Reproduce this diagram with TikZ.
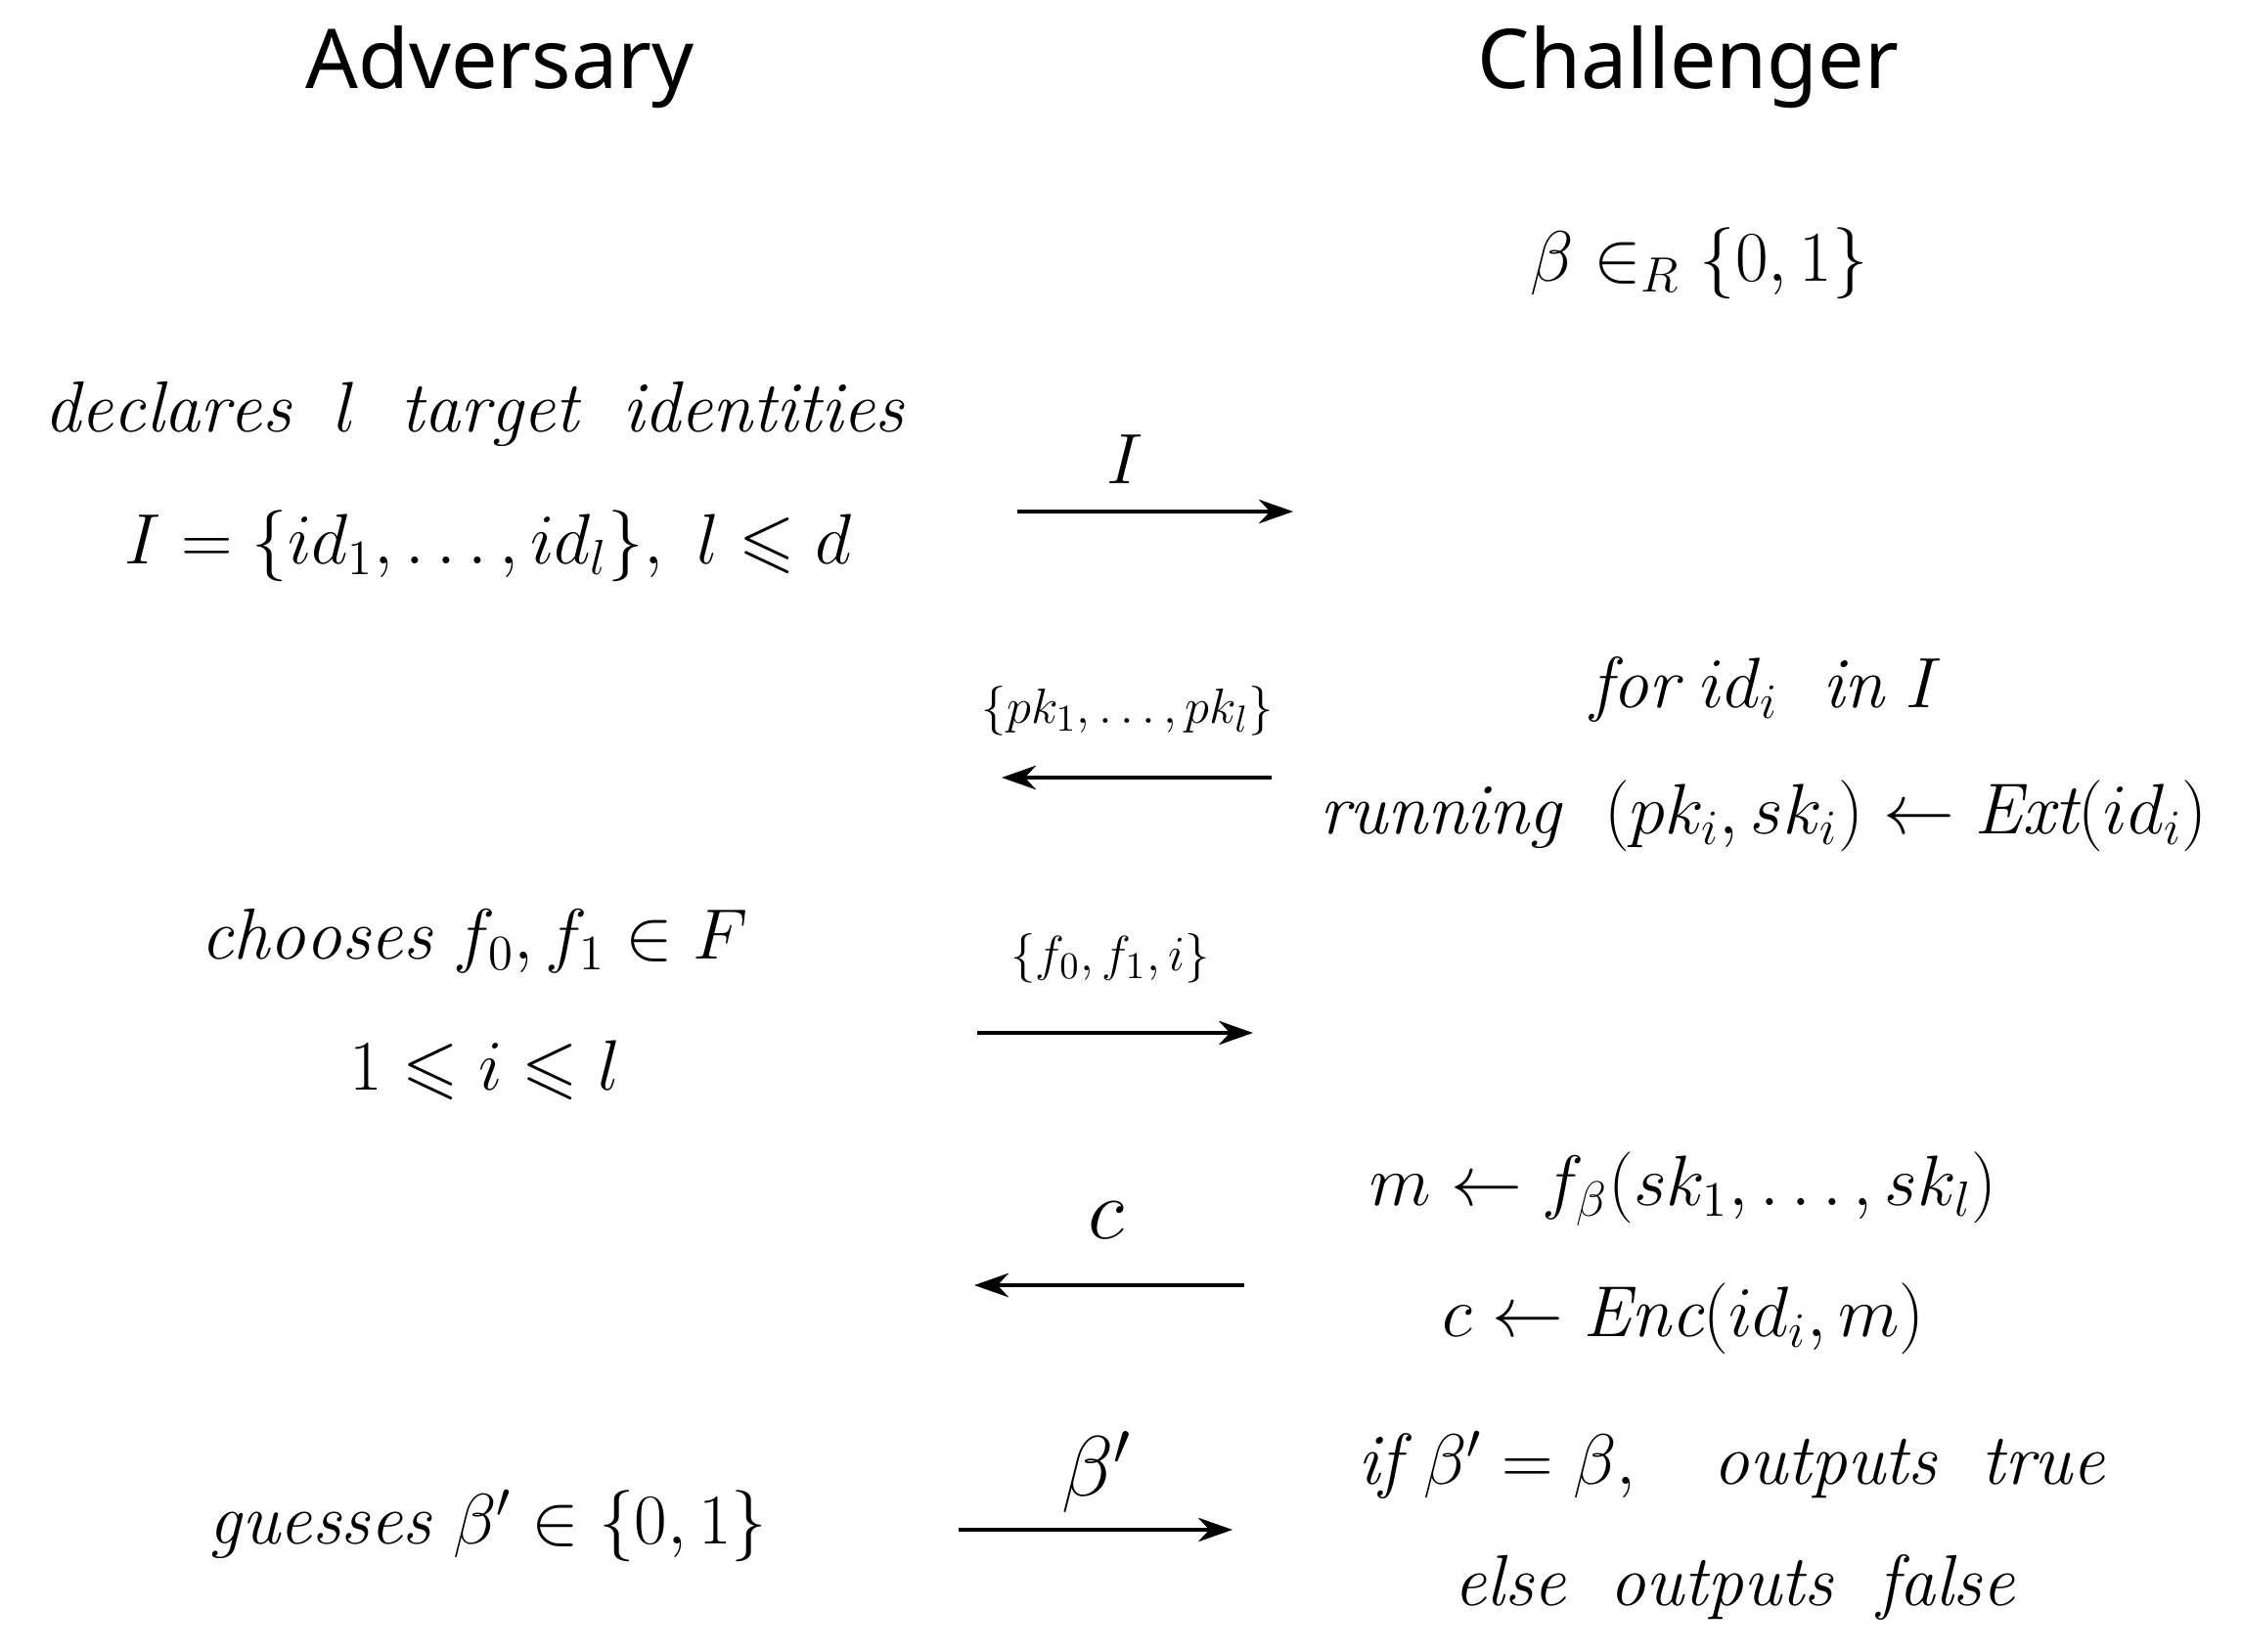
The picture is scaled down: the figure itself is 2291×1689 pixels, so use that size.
\documentclass[tikz,border=0pt]{standalone}
\usepackage{amsmath,amssymb}
\usepackage{fontspec}
\newfontfamily\hdfont{Noto Sans}
\usetikzlibrary{arrows.meta}
\begin{document}
\begin{tikzpicture}[x=0.01cm,y=-0.01cm,
  hd/.style={font=\hdfont\fontsize{24}{30}\selectfont},
  tx/.style={font=\fontsize{21}{26}\selectfont},
  lb/.style={font=\fontsize{15}{18}\selectfont},
  lbb/.style={font=\fontsize{21}{26}\selectfont},
  lbc/.style={font=\fontsize{25}{30}\selectfont},
  msg/.style={-{Stealth[length=10pt,width=7pt]},line width=0.9pt}]
\useasboundingbox (0,0) rectangle (2291,1689);
\node[hd] (adv) at (511,69) {Adversary};
\node[hd] (cha) at (1726,69) {Challenger};
\node[tx] (beta) at (1737,269) {$\beta \in_{R} \{0,1\}$};
\node[tx] (decl) at (485,423) {$\mathit{declares}\ \ l\ \ \mathit{target}\ \ \mathit{identities}$};
\node[tx] (iset) at (499,558) {$I=\{id_1,\ldots,id_l\},\ l\leqslant d$};
\coordinate (a1s) at (1040,523); \coordinate (a1e) at (1322,523);
\draw[msg] (a1s) -- (a1e);
\node[lbb] (l1) at (1150,470) {$I$};
\node[tx] (fori) at (1806,705) {$\mathit{for}\ id_i\ \ \mathit{in}\ I$};
\node[tx] (run) at (1803,834) {$\mathit{running}\ \ (pk_i,sk_i)\leftarrow \mathit{Ext}(id_i)$};
\coordinate (a2s) at (1300,795); \coordinate (a2e) at (1024,795);
\draw[msg] (a2s) -- (a2e);
\node[lb] (l2) at (1153,727) {$\{pk_1,\ldots,pk_l\}$};
\node[tx] (choo) at (485,962) {$\mathit{chooses}\ f_0,f_1\in F$};
\node[tx] (rng) at (496,1094) {$1\leqslant i\leqslant l$};
\coordinate (a3s) at (999,1056); \coordinate (a3e) at (1281,1056);
\draw[msg] (a3s) -- (a3e);
\node[lb] (l3) at (1135,980) {$\{f_0,f_1,i\}$};
\node[tx] (mm) at (1721,1216) {$m\leftarrow f_\beta(sk_1,\ldots,sk_l)$};
\node[tx] (cc) at (1721,1348) {$c\leftarrow \mathit{Enc}(id_i,m)$};
\coordinate (a4s) at (1272,1314); \coordinate (a4e) at (996,1314);
\draw[msg] (a4s) -- (a4e);
\node[lbc] (l4) at (1131,1248) {$c$};
\node[tx] (iff) at (1770,1498) {$\mathit{if}\ \beta'=\beta,\ \ \ \mathit{outputs}\ \ \mathit{true}$};
\node[tx] (els) at (1773,1623) {$\mathit{else}\ \ \mathit{outputs}\ \ \mathit{false}$};
\node[tx] (gue) at (499,1560) {$\mathit{guesses}\ \beta'\in\{0,1\}$};
\coordinate (a5s) at (980,1564); \coordinate (a5e) at (1260,1564);
\draw[msg] (a5s) -- (a5e);
\node[lbc] (l5) at (1121,1505) {$\beta'$};
\end{tikzpicture}
\end{document}
